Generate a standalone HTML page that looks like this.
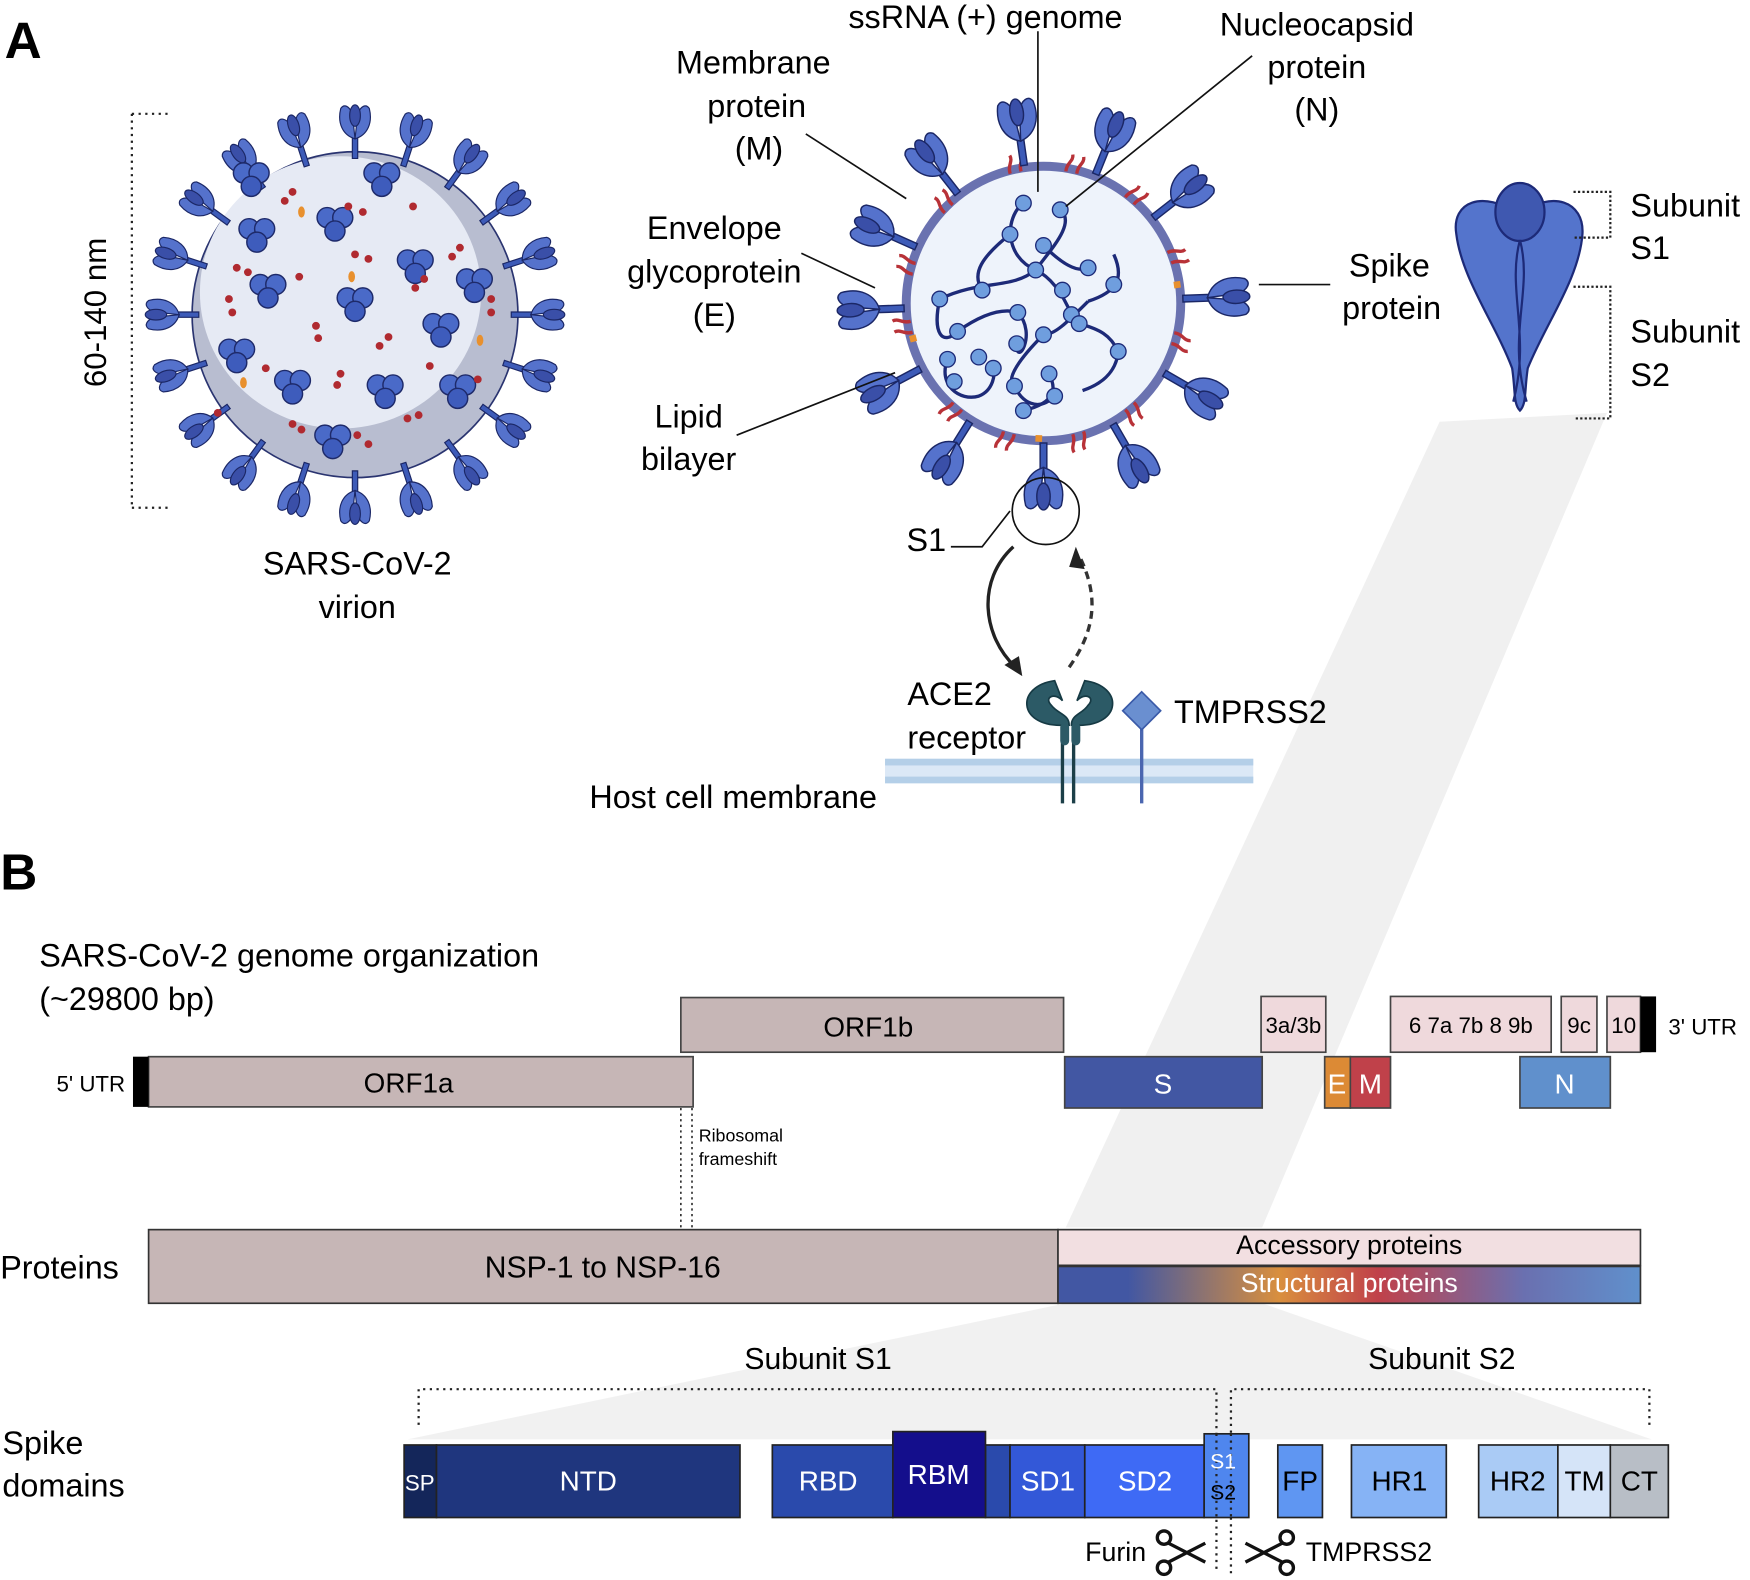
<!DOCTYPE html>
<html><head><meta charset="utf-8"><style>
html,body{margin:0;padding:0;background:#fff;}
svg{display:block;font-family:"Liberation Sans",Arial,sans-serif;}
</style></head><body>
<svg width="1750" height="1580" viewBox="0 0 1568 1416" xmlns="http://www.w3.org/2000/svg">
<defs>
<g id="sp">
 <path d="M-3,0 L-3,-24 L3,-24 L3,0Z" fill="#3d5bb8" stroke="#1b2766" stroke-width="1.3"/>
 <path d="M0,-22 C-14,-26 -20,-40 -16,-56 C-12,-62 -6,-58 -3,-50 Z" fill="#5572cc" stroke="#1b2766" stroke-width="1.3"/>
 <path d="M0,-22 C14,-26 20,-40 16,-56 C12,-62 6,-58 3,-50 Z" fill="#5572cc" stroke="#1b2766" stroke-width="1.3"/>
 <ellipse cx="0" cy="-48" rx="6" ry="12" fill="#3a4fa8" stroke="#1b2766" stroke-width="1.3"/>
</g>
<g id="sps"><use href="#sp" transform="scale(0.8)"/></g>
<g id="tri">
 <circle cx="-7" cy="-5" r="9" fill="#4a6ac8" stroke="#1e2a6a" stroke-width="1.3"/>
 <circle cx="7" cy="-5" r="9" fill="#4a6ac8" stroke="#1e2a6a" stroke-width="1.3"/>
 <circle cx="0" cy="7" r="9" fill="#3e5cbc" stroke="#1e2a6a" stroke-width="1.3"/>
</g>
<g id="mp"><path d="M-5,0 C-6,-8 0,-10 -2,-16 M5,0 C4,-8 10,-10 8,-16" stroke="#b83238" stroke-width="3" fill="none"/></g>
<linearGradient id="sg" x1="0" x2="1" y1="0" y2="0">
 <stop offset="0" stop-color="#4257a3"/><stop offset="0.12" stop-color="#4257a3"/>
 <stop offset="0.38" stop-color="#d98f3e"/><stop offset="0.55" stop-color="#c0414a"/>
 <stop offset="0.8" stop-color="#6a70b0"/><stop offset="1" stop-color="#6090cc"/>
</linearGradient>
</defs>

<!-- gray projections -->
<polygon points="1290,378 1440,370 1131,1100 955,1100" fill="#ececec" opacity="0.8"/>
<polygon points="955,1168 1131,1168 1480,1290 365,1290" fill="#efefef" opacity="0.9"/>

<text x="4" y="52" font-size="46" font-weight="bold">A</text>
<text x="0" y="797" font-size="46" font-weight="bold">B</text>

<!-- left virion -->
<path d="M118,102 V455 M118,102 H152 M118,455 H152" stroke="#222" stroke-width="2" stroke-dasharray="2,4" fill="none"/>
<text transform="translate(95,280) rotate(-90)" font-size="28" text-anchor="middle">60-140 nm</text>
<circle cx="318" cy="282" r="146" fill="#b8bdd0" stroke="#2a3470" stroke-width="1.5"/>
<ellipse cx="305" cy="262" rx="126" ry="122" fill="#e6eaf4"/>
<g transform="translate(318,282)">
<use href="#sps" transform="rotate(0) translate(0,-140)"/><use href="#sps" transform="rotate(18) translate(0,-140)"/>
<use href="#sps" transform="rotate(36) translate(0,-140)"/><use href="#sps" transform="rotate(54) translate(0,-140)"/>
<use href="#sps" transform="rotate(72) translate(0,-140)"/><use href="#sps" transform="rotate(90) translate(0,-140)"/>
<use href="#sps" transform="rotate(108) translate(0,-140)"/><use href="#sps" transform="rotate(126) translate(0,-140)"/>
<use href="#sps" transform="rotate(144) translate(0,-140)"/><use href="#sps" transform="rotate(162) translate(0,-140)"/>
<use href="#sps" transform="rotate(180) translate(0,-140)"/><use href="#sps" transform="rotate(198) translate(0,-140)"/>
<use href="#sps" transform="rotate(216) translate(0,-140)"/><use href="#sps" transform="rotate(234) translate(0,-140)"/>
<use href="#sps" transform="rotate(252) translate(0,-140)"/><use href="#sps" transform="rotate(270) translate(0,-140)"/>
<use href="#sps" transform="rotate(288) translate(0,-140)"/><use href="#sps" transform="rotate(306) translate(0,-140)"/>
<use href="#sps" transform="rotate(324) translate(0,-140)"/><use href="#sps" transform="rotate(342) translate(0,-140)"/>
</g>
<use href="#tri" transform="translate(300,200)"/><use href="#tri" transform="translate(372,238)"/>
<use href="#tri" transform="translate(240,260)"/><use href="#tri" transform="translate(318,272)"/>
<use href="#tri" transform="translate(395,295)"/><use href="#tri" transform="translate(262,346)"/>
<use href="#tri" transform="translate(345,350)"/><use href="#tri" transform="translate(225,160)"/>
<use href="#tri" transform="translate(212,318)"/><use href="#tri" transform="translate(410,350)"/>
<use href="#tri" transform="translate(298,395)"/><use href="#tri" transform="translate(230,210)"/>
<use href="#tri" transform="translate(342,160)"/><use href="#tri" transform="translate(425,255)"/>
<g fill="#b02a30">
<circle cx="255" cy="180" r="3.5"/><circle cx="262" cy="172" r="3.5"/><circle cx="312" cy="185" r="3.5"/><circle cx="325" cy="190" r="3.5"/>
<circle cx="212" cy="240" r="3.5"/><circle cx="222" cy="244" r="3.5"/><circle cx="268" cy="248" r="3.5"/><circle cx="318" cy="228" r="3.5"/>
<circle cx="330" cy="232" r="3.5"/><circle cx="370" cy="185" r="3.5"/><circle cx="405" cy="230" r="3.5"/><circle cx="412" cy="222" r="3.5"/>
<circle cx="372" cy="258" r="3.5"/><circle cx="380" cy="250" r="3.5"/><circle cx="205" cy="268" r="3.5"/><circle cx="208" cy="280" r="3.5"/>
<circle cx="283" cy="292" r="3.5"/><circle cx="285" cy="303" r="3.5"/><circle cx="340" cy="310" r="3.5"/><circle cx="348" cy="302" r="3.5"/>
<circle cx="440" cy="268" r="3.5"/><circle cx="440" cy="280" r="3.5"/><circle cx="238" cy="330" r="3.5"/><circle cx="305" cy="335" r="3.5"/>
<circle cx="302" cy="345" r="3.5"/><circle cx="385" cy="328" r="3.5"/><circle cx="365" cy="375" r="3.5"/><circle cx="375" cy="372" r="3.5"/>
<circle cx="262" cy="380" r="3.5"/><circle cx="270" cy="385" r="3.5"/><circle cx="320" cy="390" r="3.5"/><circle cx="330" cy="398" r="3.5"/>
<circle cx="428" cy="340" r="3.5"/><circle cx="195" cy="370" r="3.5"/>
</g>
<g fill="#e8902e"><ellipse cx="270" cy="190" rx="3" ry="5"/><ellipse cx="315" cy="248" rx="3" ry="5"/><ellipse cx="430" cy="305" rx="3" ry="5"/><ellipse cx="218" cy="343" rx="3" ry="5"/></g>
<text x="320" y="515" font-size="29" text-anchor="middle">SARS-CoV-2</text>
<text x="320" y="554" font-size="29" text-anchor="middle">virion</text>

<!-- middle virion -->
<circle cx="935" cy="272" r="123" fill="#eef3fb" stroke="#6a72b0" stroke-width="8"/>
<g transform="translate(935,272)">
<use href="#mp" transform="rotate(-12) translate(0,-120)"/><use href="#mp" transform="rotate(12) translate(0,-120)"/>
<use href="#mp" transform="rotate(40) translate(0,-120)"/><use href="#mp" transform="rotate(-45) translate(0,-120)"/>
<use href="#mp" transform="rotate(-75) translate(0,-120)"/><use href="#mp" transform="rotate(70) translate(0,-120)"/>
<use href="#mp" transform="rotate(105) translate(0,-120)"/><use href="#mp" transform="rotate(-100) translate(0,-120)"/>
<use href="#mp" transform="rotate(140) translate(0,-120)"/><use href="#mp" transform="rotate(165) translate(0,-120)"/>
<use href="#mp" transform="rotate(195) translate(0,-120)"/><use href="#mp" transform="rotate(220) translate(0,-120)"/>
<use href="#sp" transform="rotate(-8) translate(0,-125)"/><use href="#sp" transform="rotate(22) translate(0,-125)"/>
<use href="#sp" transform="rotate(52) translate(0,-125)"/><use href="#sp" transform="rotate(-38) translate(0,-125)"/>
<use href="#sp" transform="rotate(-66) translate(0,-125)"/><use href="#sp" transform="rotate(-92) translate(0,-125)"/>
<use href="#sp" transform="rotate(88) translate(0,-125)"/><use href="#sp" transform="rotate(120) translate(0,-125)"/>
<use href="#sp" transform="rotate(150) translate(0,-125)"/><use href="#sp" transform="rotate(180) translate(0,-125)"/>
<use href="#sp" transform="rotate(212) translate(0,-125)"/><use href="#sp" transform="rotate(242) translate(0,-125)"/>
<rect x="-3" y="-124" width="6" height="6" fill="#e8902e" transform="rotate(-105)"/>
<rect x="-3" y="-124" width="6" height="6" fill="#e8902e" transform="rotate(82)"/>
<rect x="-3" y="-124" width="6" height="6" fill="#e8902e" transform="rotate(182)"/>
</g>
<g stroke="#1d2a78" stroke-width="3" fill="none">
<path d="M917,182 C900,195 900,230 928,242 C945,250 955,270 960,282 M950,188 C965,200 940,225 928,242 M928,242 C905,260 880,250 842,268 C835,300 845,310 858,297 C875,285 895,275 912,280 C930,300 910,330 911,308"/>
<path d="M998,228 C1008,250 1000,262 975,270 M975,270 C955,290 945,300 935,300 C915,320 900,340 909,346 C915,360 930,370 945,355 M1002,315 C1000,335 985,345 970,350 M849,322 C840,345 860,360 877,355 C890,350 892,335 890,330"/>
<path d="M905,210 C880,230 870,245 880,260 M935,220 C950,235 965,245 975,240 M967,290 C985,295 995,300 1002,315 M940,335 C945,345 950,360 917,368"/>
</g>
<g fill="#6f9ede" stroke="#1d2a78" stroke-width="1.2">
<circle cx="917" cy="182" r="7"/><circle cx="950" cy="188" r="7"/><circle cx="905" cy="210" r="7"/><circle cx="935" cy="220" r="7"/>
<circle cx="975" cy="240" r="7"/><circle cx="952" cy="260" r="7"/><circle cx="928" cy="242" r="7"/><circle cx="880" cy="260" r="7"/>
<circle cx="842" cy="268" r="7"/><circle cx="998" cy="255" r="7"/><circle cx="960" cy="282" r="7"/><circle cx="858" cy="297" r="7"/>
<circle cx="912" cy="280" r="7"/><circle cx="849" cy="322" r="7"/><circle cx="877" cy="320" r="7"/><circle cx="911" cy="308" r="7"/>
<circle cx="935" cy="300" r="7"/><circle cx="967" cy="290" r="7"/><circle cx="1002" cy="315" r="7"/><circle cx="940" cy="335" r="7"/>
<circle cx="855" cy="342" r="7"/><circle cx="890" cy="330" r="7"/><circle cx="909" cy="346" r="7"/><circle cx="945" cy="355" r="7"/>
<circle cx="917" cy="368" r="7"/>
</g>
<g font-size="29" text-anchor="middle">
<text x="883" y="25">ssRNA (+) genome</text>
<text x="675" y="66">Membrane</text><text x="678" y="105">protein</text><text x="680" y="143">(M)</text>
<text x="1180" y="32">Nucleocapsid</text><text x="1180" y="70">protein</text><text x="1180" y="108">(N)</text>
<text x="640" y="214">Envelope</text><text x="640" y="253">glycoprotein</text><text x="640" y="292">(E)</text>
<text x="617" y="383">Lipid</text><text x="617" y="421">bilayer</text>
<text x="1245" y="248">Spike</text><text x="1247" y="286">protein</text>
<text x="830" y="494">S1</text>
</g>
<g stroke="#111" stroke-width="1.5" fill="none">
<path d="M930,28 V172"/><path d="M1122,50 L955,185"/><path d="M722,120 L812,178"/><path d="M718,227 L784,258"/>
<path d="M660,390 L802,334"/><path d="M1128,255 H1192"/><path d="M852,490 H880 L905,458"/>
<circle cx="937" cy="458" r="30"/>
</g>

<!-- arrows -->
<path d="M908,490 C875,520 880,570 910,598" stroke="#222" stroke-width="3" fill="none"/>
<polygon points="916,606 900,596 913,588" fill="#222"/>
<path d="M958,598 C985,560 982,530 968,500" stroke="#333" stroke-width="3" fill="none" stroke-dasharray="7,5"/>
<polygon points="964,490 972,510 958,508" fill="#222"/>

<!-- host cell -->
<rect x="793" y="680" width="330" height="22" fill="#dbe8f6"/>
<rect x="793" y="680" width="330" height="6" fill="#b4cfe8"/>
<rect x="793" y="696" width="330" height="6" fill="#b4cfe8"/>
<path d="M952,655 V720 M962,655 V720" stroke="#1c3f48" stroke-width="3"/>
<path d="M1023,650 V720" stroke="#4a66b0" stroke-width="3"/>
<path d="M945,610 C910,615 912,650 950,650 L958,650 C958,640 948,640 942,632 C935,625 945,620 952,628 Z" fill="#2c5a66" stroke="#163a44" stroke-width="1.5"/>
<path d="M972,610 C1007,615 1005,650 967,650 L960,650 C960,640 970,640 975,632 C982,625 972,620 965,628 Z" fill="#2c5a66" stroke="#163a44" stroke-width="1.5"/>
<rect x="950" y="648" width="8" height="20" rx="4" fill="#2c5a66"/><rect x="960" y="648" width="8" height="20" rx="4" fill="#2c5a66"/>
<polygon points="1023,620 1040,637 1023,654 1006,637" fill="#6a8fd0" stroke="#3a5aa8" stroke-width="1.5"/>
<g font-size="29">
<text x="813" y="632">ACE2</text><text x="813" y="671">receptor</text>
<text x="1052" y="648">TMPRSS2</text>
<text x="528" y="724">Host cell membrane</text>
</g>

<!-- right spike -->
<path d="M1360,192 C1330,170 1300,180 1305,210 C1310,250 1340,290 1355,330 C1358,350 1356,362 1362,368 C1368,362 1366,350 1369,330 C1385,290 1415,250 1418,210 C1420,180 1390,170 1362,192 Z" fill="#5474cc" stroke="#1d2a78" stroke-width="2"/>
<ellipse cx="1362" cy="190" rx="22" ry="26" fill="#3f58b0" stroke="#1d2a78" stroke-width="2"/>
<path d="M1362,215 C1350,260 1372,300 1356,360 M1362,215 C1374,260 1350,300 1368,360" stroke="#1d2a78" stroke-width="2" fill="none"/>
<path d="M1410,172 H1443 V213 H1410 M1410,257 H1443 V375 H1410" stroke="#222" stroke-width="2" stroke-dasharray="2,2" fill="none"/>
<g font-size="29"><text x="1461" y="194">Subunit</text><text x="1461" y="232">S1</text><text x="1461" y="307">Subunit</text><text x="1461" y="346">S2</text></g>

<!-- genome -->
<text x="35" y="866" font-size="29">SARS-CoV-2 genome organization</text>
<text x="35" y="905" font-size="29">(~29800 bp)</text>
<g stroke="#444" stroke-width="1.5">
<rect x="610" y="894" width="343" height="49" fill="#c6b6b6"/>
<rect x="133" y="947" width="488" height="45" fill="#c6b6b6"/>
<rect x="1130" y="893" width="58" height="50" fill="#efd9dc"/>
<rect x="1246" y="893" width="144" height="50" fill="#efd9dc"/>
<rect x="1399" y="893" width="32" height="50" fill="#efd9dc"/>
<rect x="1440" y="893" width="30" height="50" fill="#efd9dc"/>
<rect x="954" y="947" width="177" height="46" fill="#4257a3"/>
<rect x="1187" y="947" width="23" height="46" fill="#dc8a35"/>
<rect x="1210" y="947" width="36" height="46" fill="#c0414a"/>
<rect x="1362" y="947" width="81" height="46" fill="#6090cc"/>
</g>
<rect x="119" y="947" width="14" height="45" fill="#000"/>
<rect x="1470" y="893" width="14" height="50" fill="#000"/>
<g font-size="25" text-anchor="middle">
<text x="778" y="929">ORF1b</text><text x="366" y="979">ORF1a</text>
<text x="1042" y="980" fill="#fff">S</text><text x="1198" y="980" fill="#fff">E</text><text x="1228" y="980" fill="#fff">M</text>
<text x="1402" y="980" fill="#fff">N</text>
</g>
<g font-size="20" text-anchor="middle">
<text x="1159" y="926">3a/3b</text><text x="1318" y="926">6 7a 7b 8 9b</text><text x="1415" y="926">9c</text><text x="1455" y="926">10</text>
</g>
<text x="112" y="978" font-size="20" text-anchor="end">5' UTR</text>
<text x="1495" y="927" font-size="20">3' UTR</text>
<path d="M610,993 V1100 M620,993 V1100" stroke="#333" stroke-width="1.5" stroke-dasharray="2,3"/>
<text x="626" y="1023" font-size="16">Ribosomal</text><text x="626" y="1044" font-size="16">frameshift</text>

<!-- proteins -->
<text x="0" y="1146" font-size="29">Proteins</text>
<g stroke="#333" stroke-width="1.5">
<rect x="133" y="1102" width="815" height="66" fill="#c6b6b6"/>
<rect x="948" y="1102" width="522" height="32" fill="#f2dfe1"/>
<rect x="948" y="1135" width="522" height="33" fill="url(#sg)"/>
</g>
<text x="540" y="1145" font-size="27" text-anchor="middle">NSP-1 to NSP-16</text>
<text x="1209" y="1124" font-size="24" text-anchor="middle">Accessory proteins</text>
<text x="1209" y="1158" font-size="24" text-anchor="middle" fill="#fff">Structural proteins</text>

<!-- spike domains -->
<text x="733" y="1227" font-size="27" text-anchor="middle">Subunit S1</text>
<text x="1292" y="1227" font-size="27" text-anchor="middle">Subunit S2</text>
<path d="M375,1277 V1245 H1090 V1410 M1103,1410 V1245 H1478 V1277" stroke="#222" stroke-width="2" stroke-dasharray="2,4" fill="none"/>
<text x="2" y="1303" font-size="29">Spike</text><text x="2" y="1341" font-size="29">domains</text>
<g stroke="#222" stroke-width="1.5">
<rect x="362" y="1295" width="29" height="65" fill="#14265a"/>
<rect x="391" y="1295" width="272" height="65" fill="#1f367e"/>
<rect x="692" y="1295" width="108" height="65" fill="#2a4aac"/>
<rect x="883" y="1295" width="22" height="65" fill="#2a4aac"/>
<rect x="800" y="1283" width="83" height="77" fill="#140e8c"/>
<rect x="905" y="1295" width="67" height="65" fill="#3358d8"/>
<rect x="972" y="1295" width="107" height="65" fill="#3e6af5"/>
<rect x="1079" y="1285" width="40" height="75" fill="#4f86ee"/>
<rect x="1145" y="1295" width="40" height="65" fill="#5f96f2"/>
<rect x="1211" y="1295" width="85" height="65" fill="#86b3f5"/>
<rect x="1325" y="1295" width="71" height="65" fill="#aacbf5"/>
<rect x="1396" y="1295" width="47" height="65" fill="#d5e4f8"/>
<rect x="1443" y="1295" width="52" height="65" fill="#b8bec6"/>
</g>
<path d="M1090,1285 V1360 M1103,1285 V1360" stroke="#222" stroke-width="2" stroke-dasharray="2,4"/>
<g font-size="25" text-anchor="middle">
<text x="376" y="1336" fill="#fff" font-size="20">SP</text><text x="527" y="1336" fill="#fff">NTD</text>
<text x="742" y="1336" fill="#fff">RBD</text><text x="841" y="1330" fill="#fff">RBM</text>
<text x="939" y="1336" fill="#fff">SD1</text><text x="1026" y="1336" fill="#fff">SD2</text>
<text x="1096" y="1316" fill="#fff" font-size="19">S1</text><text x="1096" y="1344" font-size="19">S2</text>
<text x="1165" y="1336">FP</text><text x="1254" y="1336">HR1</text>
<text x="1360" y="1336">HR2</text><text x="1420" y="1336">TM</text><text x="1469" y="1336">CT</text>
</g>
<g stroke="#111" stroke-width="3" fill="none">
<circle cx="1043" cy="1378" r="6"/><circle cx="1043" cy="1405" r="6"/>
<path d="M1047,1383 L1080,1400 M1047,1400 L1080,1383"/>
<circle cx="1153" cy="1378" r="6"/><circle cx="1153" cy="1405" r="6"/>
<path d="M1149,1383 L1116,1400 M1149,1400 L1116,1383"/>
</g>
<text x="1027" y="1399" font-size="24" text-anchor="end">Furin</text>
<text x="1170" y="1399" font-size="24">TMPRSS2</text>
</svg>
</body></html>
